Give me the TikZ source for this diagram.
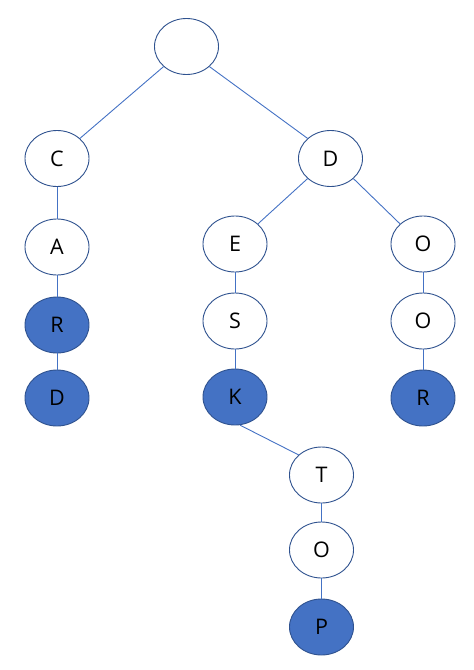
\documentclass[tikz,border=0pt]{standalone}
\usepackage{fontspec}
\setmainfont{Open Sans}
\usetikzlibrary{shapes.geometric}
\definecolor{fillblue}{HTML}{4472C4}
\definecolor{edgeblue}{HTML}{2F528F}
\definecolor{lineblue}{HTML}{4472C4}
\begin{document}
\begin{tikzpicture}[x=1pt,y=-1pt,
  nd/.style={ellipse,draw=edgeblue,line width=0.9pt,minimum width=64pt,minimum height=56pt,inner sep=0pt,fill=white,font=\fontsize{21.5}{25}\selectfont},
  leaf/.style={nd,fill=fillblue,text=black},
  ln/.style={draw=lineblue,line width=0.9pt}]
\useasboundingbox (0,0) rectangle (474,670);
\node[nd] (root) at (186.5,46.5) {};
\node[nd] (c) at (57,158.5) {C};
\node[nd] (d) at (330.5,158.5) {D};
\node[nd] (a) at (57,247) {A};
\node[leaf] (r1) at (57,325) {R};
\node[leaf] (d2) at (57,398) {D};
\node[nd] (e) at (235,244) {E};
\node[nd] (s) at (235,321) {S};
\node[leaf] (k) at (235,397) {K};
\node[nd] (t) at (321.5,475) {T};
\node[nd] (o3) at (321.5,550) {O};
\node[leaf] (p) at (321.5,627) {P};
\node[nd] (o1) at (423,244) {O};
\node[nd] (o2) at (423,321) {O};
\node[leaf] (r2) at (423,398) {R};
\draw[ln] (root.south west) -- (c.north east);
\draw[ln] (root.south east) -- (d.north west);
\draw[ln] (c) -- (a);
\draw[ln] (a) -- (r1);
\draw[ln] (r1) -- (d2);
\draw[ln] (d.south west) -- (e.north east);
\draw[ln] (d.south east) -- (o1.north west);
\draw[ln] (e) -- (s);
\draw[ln] (s) -- (k);
\draw[ln] (k.-80) -- (t.north west);
\draw[ln] (t) -- (o3);
\draw[ln] (o3) -- (p);
\draw[ln] (o1) -- (o2);
\draw[ln] (o2) -- (r2);
\end{tikzpicture}
\end{document}
